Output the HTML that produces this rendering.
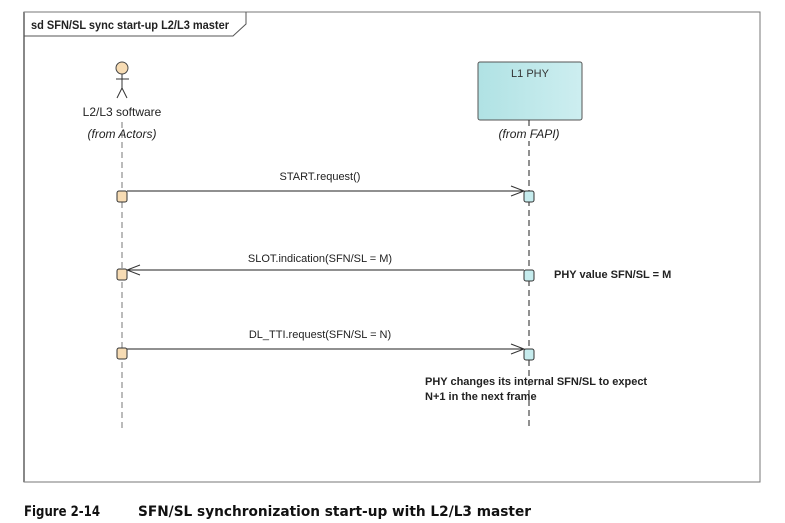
<!DOCTYPE html>
<html><head><meta charset="utf-8"><style>
body{margin:0;background:#fff;width:785px;height:523px;overflow:hidden;font-family:"Liberation Sans",sans-serif}
</style></head><body>
<svg width="785" height="523" xmlns="http://www.w3.org/2000/svg" style="position:absolute;left:0;top:0">
<defs><linearGradient id="g" x1="0" x2="1"><stop offset="0" stop-color="#b0e2e4"/><stop offset="1" stop-color="#cdeef0"/></linearGradient></defs>
<rect x="24" y="12" width="736" height="470" fill="none" stroke="#777" stroke-width="1"/>
<line x1="24" y1="12" x2="24" y2="482" stroke="#888" stroke-width="2"/>
<path d="M24 36 H233 L246 24 V12" fill="none" stroke="#555"/>
<text x="31" y="29" font-size="12" font-weight="bold" fill="#222" textLength="198" lengthAdjust="spacingAndGlyphs">sd SFN/SL sync start-up L2/L3 master</text>
<circle cx="122" cy="68" r="6" fill="#f7dcb4" stroke="#444"/>
<line x1="122" y1="74" x2="122" y2="88" stroke="#333"/>
<line x1="116" y1="79" x2="129" y2="79" stroke="#333"/>
<path d="M117 98 L122 88 L127 98" fill="none" stroke="#333"/>
<text x="122" y="116" font-size="12" text-anchor="middle" fill="#222">L2/L3 software</text>
<text x="122" y="138" font-size="12" font-style="italic" text-anchor="middle" fill="#222">(from Actors)</text>
<line x1="122" y1="122" x2="122" y2="430" stroke="#777" stroke-dasharray="6,4"/>
<rect x="478" y="62" width="104" height="58" rx="2" fill="url(#g)" stroke="#555"/>
<text x="530" y="77" font-size="11" text-anchor="middle" fill="#333">L1 PHY</text>
<line x1="529" y1="120" x2="529" y2="430" stroke="#222" stroke-dasharray="6,4"/>
<rect x="500" y="127" width="58" height="14" fill="#fff"/>
<text x="529" y="138" font-size="12" font-style="italic" text-anchor="middle" fill="#222">(from FAPI)</text>
<text x="320" y="180" font-size="11" text-anchor="middle" fill="#222">START.request()</text>
<line x1="127" y1="191" x2="524" y2="191" stroke="#222"/>
<path d="M511 186 L524 191 L511 196" fill="none" stroke="#333"/>
<text x="320" y="262" font-size="11" text-anchor="middle" fill="#222">SLOT.indication(SFN/SL = M)</text>
<line x1="127" y1="270" x2="524" y2="270" stroke="#222"/>
<path d="M140 265 L127 270 L140 275" fill="none" stroke="#333"/>
<text x="320" y="338" font-size="11" text-anchor="middle" fill="#222">DL_TTI.request(SFN/SL = N)</text>
<line x1="127" y1="349" x2="524" y2="349" stroke="#222"/>
<path d="M511 344 L524 349 L511 354" fill="none" stroke="#333"/>
<rect x="117" y="191" width="10" height="11" rx="2" fill="#f7dcb4" stroke="#333"/>
<rect x="117" y="269" width="10" height="11" rx="2" fill="#f7dcb4" stroke="#333"/>
<rect x="117" y="348" width="10" height="11" rx="2" fill="#f7dcb4" stroke="#333"/>
<rect x="524" y="191" width="10" height="11" rx="2" fill="#c6ecee" stroke="#333"/>
<rect x="524" y="270" width="10" height="11" rx="2" fill="#c6ecee" stroke="#333"/>
<rect x="524" y="349" width="10" height="11" rx="2" fill="#c6ecee" stroke="#333"/>
<text x="554" y="278" font-size="11" font-weight="bold" fill="#222">PHY value SFN/SL = M</text>
<text x="425" y="385" font-size="11" font-weight="bold" fill="#222">PHY changes its internal SFN/SL to expect</text>
<text x="425" y="400" font-size="11" font-weight="bold" fill="#222">N+1 in the next frame</text>
<text x="24" y="516" font-size="14" font-weight="bold" font-family="DejaVu Sans, sans-serif" fill="#111" textLength="76" lengthAdjust="spacingAndGlyphs">Figure 2-14</text>
<text x="138" y="516" font-size="14" font-weight="bold" font-family="DejaVu Sans, sans-serif" fill="#111" textLength="393" lengthAdjust="spacingAndGlyphs">SFN/SL synchronization start-up with L2/L3 master</text>
</svg>
</body></html>
